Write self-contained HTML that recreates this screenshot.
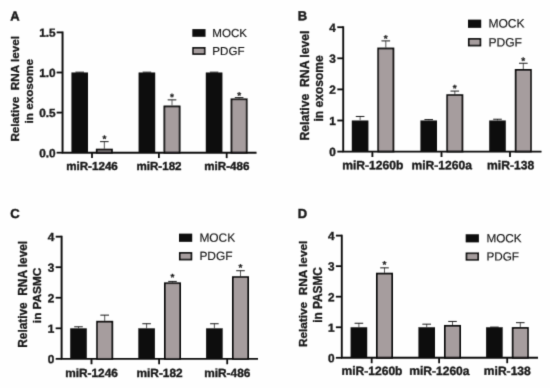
<!DOCTYPE html>
<html><head><meta charset="utf-8"><title>Figure</title>
<style>
html,body{margin:0;padding:0;background:#fefefe;}
svg{display:block;font-family:"Liberation Sans",Arial,Helvetica,sans-serif;fill:#1a1a1a;}
text{stroke:#1a1a1a;stroke-width:0.12px;stroke-linejoin:round;}
.L{stroke-width:0.45px}.t{stroke-width:0.32px}.k{stroke-width:0.38px}.c{stroke-width:0.38px}.s{stroke-width:0.25px}.g{stroke-width:0.18px;fill:#202020;stroke:#202020}
</style></head>
<body>
<svg width="550" height="388" viewBox="0 0 550 388">
<defs><filter id="soft" x="0" y="0" width="550" height="388" filterUnits="userSpaceOnUse"><feConvolveMatrix order="3" kernelMatrix="0.022 0.15 0.022 0.15 1 0.15 0.022 0.15 0.022" divisor="1.688" edgeMode="none" preserveAlpha="false"/></filter></defs>
<rect width="550" height="388" fill="#fefefe"/>
<g filter="url(#soft)">
<text x="10.3" y="20.6" transform="rotate(0.05 10.3 20.6)" class="L" font-size="13" font-weight="700">A</text>
<text transform="translate(19.0,88.85) rotate(-90)" class="t" font-size="11.7" font-weight="700" text-anchor="middle" xml:space="preserve" style="white-space:pre">Relative  RNA level</text>
<text transform="translate(33.3,91.25) rotate(-90)" class="t" font-size="11.7" font-weight="700" text-anchor="middle">in exosome</text>
<path d="M79.70 72.50V72.18" stroke="#181818" stroke-width="0.72" fill="none"/><path d="M75.40 72.18H84.00" stroke="#101010" stroke-width="0.95" fill="none"/>
<rect x="71.40" y="72.50" width="16.60" height="80.20" fill="#0d0d0d"/>
<path d="M104.35 148.85V141.63" stroke="#181818" stroke-width="0.72" fill="none"/><path d="M100.05 141.63H108.65" stroke="#101010" stroke-width="0.95" fill="none"/>
<rect x="96.75" y="149.60" width="15.20" height="3.10" fill="#a69d9e" stroke="#0d0d0d" stroke-width="1.8"/>
<text x="104.35" y="142.18" transform="rotate(0.05 104.35 142.18)" class="s" font-size="10" font-weight="700" text-anchor="middle">*</text>
<path d="M92.00 152.7V158.10" stroke="#0c0c0c" stroke-width="1.8"/>
<text x="92.00" y="170.0" transform="rotate(0.05 92.00 170.0)" class="c" font-size="11.6" font-weight="700" text-anchor="middle">miR-1246</text>
<path d="M146.90 72.50V72.18" stroke="#181818" stroke-width="0.72" fill="none"/><path d="M142.60 72.18H151.20" stroke="#101010" stroke-width="0.95" fill="none"/>
<rect x="138.60" y="72.50" width="16.60" height="80.20" fill="#0d0d0d"/>
<path d="M172.00 105.70V99.85" stroke="#181818" stroke-width="0.72" fill="none"/><path d="M167.70 99.85H176.30" stroke="#101010" stroke-width="0.95" fill="none"/>
<rect x="164.40" y="106.45" width="15.20" height="46.25" fill="#a69d9e" stroke="#0d0d0d" stroke-width="1.8"/>
<text x="172.00" y="100.40" transform="rotate(0.05 172.00 100.40)" class="s" font-size="10" font-weight="700" text-anchor="middle">*</text>
<path d="M158.90 152.7V158.10" stroke="#0c0c0c" stroke-width="1.8"/>
<text x="159.00" y="170.0" transform="rotate(0.05 159.00 170.0)" class="c" font-size="11.6" font-weight="700" text-anchor="middle">miR-182</text>
<path d="M214.10 72.50V72.18" stroke="#181818" stroke-width="0.72" fill="none"/><path d="M209.80 72.18H218.40" stroke="#101010" stroke-width="0.95" fill="none"/>
<rect x="205.80" y="72.50" width="16.60" height="80.20" fill="#0d0d0d"/>
<path d="M239.10 98.56V97.60" stroke="#181818" stroke-width="0.72" fill="none"/><path d="M234.80 97.60H243.40" stroke="#101010" stroke-width="0.95" fill="none"/>
<rect x="231.50" y="99.31" width="15.20" height="53.39" fill="#a69d9e" stroke="#0d0d0d" stroke-width="1.8"/>
<text x="239.10" y="99.00" transform="rotate(0.05 239.10 99.00)" class="s" font-size="10" font-weight="700" text-anchor="middle">*</text>
<path d="M226.70 152.7V158.10" stroke="#0c0c0c" stroke-width="1.8"/>
<text x="226.80" y="170.0" transform="rotate(0.05 226.80 170.0)" class="c" font-size="11.6" font-weight="700" text-anchor="middle">miR-486</text>
<path d="M62.55 31.50V152.7M61.65 152.7H256.5" stroke="#0c0c0c" stroke-width="1.9" fill="none"/>
<path d="M56.65 152.70H62.55" stroke="#0c0c0c" stroke-width="1.8"/>
<text x="55.60" y="157.15" transform="rotate(0.05 55.60 157.15)" class="k" font-size="11.8" font-weight="700" text-anchor="end">0.0</text>
<path d="M56.65 112.60H62.55" stroke="#0c0c0c" stroke-width="1.8"/>
<text x="55.60" y="117.05" transform="rotate(0.05 55.60 117.05)" class="k" font-size="11.8" font-weight="700" text-anchor="end">0.5</text>
<path d="M56.65 72.50H62.55" stroke="#0c0c0c" stroke-width="1.8"/>
<text x="55.60" y="76.95" transform="rotate(0.05 55.60 76.95)" class="k" font-size="11.8" font-weight="700" text-anchor="end">1.0</text>
<path d="M56.65 32.40H62.55" stroke="#0c0c0c" stroke-width="1.8"/>
<text x="55.60" y="36.85" transform="rotate(0.05 55.60 36.85)" class="k" font-size="11.8" font-weight="700" text-anchor="end">1.5</text>
<rect x="192.3" y="29.1" width="13.2" height="7.7" fill="#0d0d0d"/>
<rect x="193.10" y="47.90" width="11.60" height="6.10" fill="#a69d9e" stroke="#0d0d0d" stroke-width="1.7"/>
<text x="212.3" y="37.0" transform="rotate(0.05 212.3 37.0)" class="g" font-size="11.6">MOCK</text>
<text x="212.3" y="55.0" transform="rotate(0.05 212.3 55.0)" class="g" font-size="11.6">PDGF</text>
<text x="297.8" y="20.3" transform="rotate(0.05 297.8 20.3)" class="L" font-size="13" font-weight="700">B</text>
<text transform="translate(308.5,85.5) rotate(-90)" class="t" font-size="12.2" font-weight="700" text-anchor="middle" xml:space="preserve" style="white-space:pre">Relative  RNA level</text>
<text transform="translate(322.7,88.45) rotate(-90)" class="t" font-size="12.0" font-weight="700" text-anchor="middle">in exosome</text>
<path d="M360.10 120.50V116.46" stroke="#181818" stroke-width="0.72" fill="none"/><path d="M355.80 116.46H364.40" stroke="#101010" stroke-width="0.95" fill="none"/>
<rect x="351.80" y="120.50" width="16.60" height="31.10" fill="#0d0d0d"/>
<path d="M385.80 47.73V40.88" stroke="#181818" stroke-width="0.72" fill="none"/><path d="M381.50 40.88H390.10" stroke="#101010" stroke-width="0.95" fill="none"/>
<rect x="378.20" y="48.48" width="15.20" height="103.12" fill="#a69d9e" stroke="#0d0d0d" stroke-width="1.8"/>
<text x="385.80" y="41.98" transform="rotate(0.05 385.80 41.98)" class="s" font-size="10" font-weight="700" text-anchor="middle">*</text>
<path d="M372.40 151.6V157.00" stroke="#0c0c0c" stroke-width="1.8"/>
<text x="372.80" y="169.2" transform="rotate(0.05 372.80 169.2)" class="c" font-size="12.1" font-weight="700" text-anchor="middle">miR-1260b</text>
<path d="M428.70 120.50V119.57" stroke="#181818" stroke-width="0.72" fill="none"/><path d="M424.40 119.57H433.00" stroke="#101010" stroke-width="0.95" fill="none"/>
<rect x="420.40" y="120.50" width="16.60" height="31.10" fill="#0d0d0d"/>
<path d="M454.80 94.38V91.11" stroke="#181818" stroke-width="0.72" fill="none"/><path d="M450.50 91.11H459.10" stroke="#101010" stroke-width="0.95" fill="none"/>
<rect x="447.20" y="95.13" width="15.20" height="56.47" fill="#a69d9e" stroke="#0d0d0d" stroke-width="1.8"/>
<text x="454.80" y="91.66" transform="rotate(0.05 454.80 91.66)" class="s" font-size="10" font-weight="700" text-anchor="middle">*</text>
<path d="M441.50 151.6V157.00" stroke="#0c0c0c" stroke-width="1.8"/>
<text x="441.70" y="169.2" transform="rotate(0.05 441.70 169.2)" class="c" font-size="12.1" font-weight="700" text-anchor="middle">miR-1260a</text>
<path d="M497.50 120.50V119.26" stroke="#181818" stroke-width="0.72" fill="none"/><path d="M493.20 119.26H501.80" stroke="#101010" stroke-width="0.95" fill="none"/>
<rect x="489.20" y="120.50" width="16.60" height="31.10" fill="#0d0d0d"/>
<path d="M523.30 69.18V63.28" stroke="#181818" stroke-width="0.72" fill="none"/><path d="M519.00 63.28H527.60" stroke="#101010" stroke-width="0.95" fill="none"/>
<rect x="515.70" y="69.93" width="15.20" height="81.67" fill="#a69d9e" stroke="#0d0d0d" stroke-width="1.8"/>
<text x="523.30" y="64.18" transform="rotate(0.05 523.30 64.18)" class="s" font-size="10" font-weight="700" text-anchor="middle">*</text>
<path d="M510.00 151.6V157.00" stroke="#0c0c0c" stroke-width="1.8"/>
<text x="510.60" y="169.2" transform="rotate(0.05 510.60 169.2)" class="c" font-size="12.1" font-weight="700" text-anchor="middle">miR-138</text>
<path d="M343.2 26.30V151.6M342.3 151.6H541.5" stroke="#0c0c0c" stroke-width="1.9" fill="none"/>
<path d="M337.30 151.60H343.2" stroke="#0c0c0c" stroke-width="1.8"/>
<text x="335.70" y="156.05" transform="rotate(0.05 335.70 156.05)" class="k" font-size="11.8" font-weight="700" text-anchor="end">0</text>
<path d="M337.30 120.50H343.2" stroke="#0c0c0c" stroke-width="1.8"/>
<text x="335.70" y="124.95" transform="rotate(0.05 335.70 124.95)" class="k" font-size="11.8" font-weight="700" text-anchor="end">1</text>
<path d="M337.30 89.40H343.2" stroke="#0c0c0c" stroke-width="1.8"/>
<text x="335.70" y="93.85" transform="rotate(0.05 335.70 93.85)" class="k" font-size="11.8" font-weight="700" text-anchor="end">2</text>
<path d="M337.30 58.30H343.2" stroke="#0c0c0c" stroke-width="1.8"/>
<text x="335.70" y="62.75" transform="rotate(0.05 335.70 62.75)" class="k" font-size="11.8" font-weight="700" text-anchor="end">3</text>
<path d="M337.30 27.20H343.2" stroke="#0c0c0c" stroke-width="1.8"/>
<text x="335.70" y="31.65" transform="rotate(0.05 335.70 31.65)" class="k" font-size="11.8" font-weight="700" text-anchor="end">4</text>
<rect x="468.0" y="19.65" width="13.2" height="8.2" fill="#0d0d0d"/>
<rect x="468.80" y="38.95" width="11.60" height="6.60" fill="#a69d9e" stroke="#0d0d0d" stroke-width="1.7"/>
<text x="488.4" y="27.5" transform="rotate(0.05 488.4 27.5)" class="g" font-size="12.1">MOCK</text>
<text x="488.4" y="46.4" transform="rotate(0.05 488.4 46.4)" class="g" font-size="12.1">PDGF</text>
<text x="10.3" y="218.0" transform="rotate(0.05 10.3 218.0)" class="L" font-size="13" font-weight="700">C</text>
<text transform="translate(26.5,294.3) rotate(-90)" class="t" font-size="11.85" font-weight="700" text-anchor="middle" xml:space="preserve" style="white-space:pre">Relative  RNA level</text>
<text transform="translate(41.4,295.4) rotate(-90)" class="t" font-size="11.8" font-weight="700" text-anchor="middle">in PASMC</text>
<path d="M78.50 328.30V326.77" stroke="#181818" stroke-width="0.72" fill="none"/><path d="M74.20 326.77H82.80" stroke="#101010" stroke-width="0.95" fill="none"/>
<rect x="70.20" y="328.30" width="16.60" height="30.55" fill="#0d0d0d"/>
<path d="M104.70 320.97V315.16" stroke="#181818" stroke-width="0.72" fill="none"/><path d="M100.40 315.16H109.00" stroke="#101010" stroke-width="0.95" fill="none"/>
<rect x="97.10" y="321.72" width="15.20" height="37.13" fill="#a69d9e" stroke="#0d0d0d" stroke-width="1.8"/>
<path d="M91.50 358.85V364.25" stroke="#0c0c0c" stroke-width="1.8"/>
<text x="91.50" y="377.0" transform="rotate(0.05 91.50 377.0)" class="c" font-size="11.85" font-weight="700" text-anchor="middle">miR-1246</text>
<path d="M146.60 328.30V323.72" stroke="#181818" stroke-width="0.72" fill="none"/><path d="M142.30 323.72H150.90" stroke="#101010" stroke-width="0.95" fill="none"/>
<rect x="138.30" y="328.30" width="16.60" height="30.55" fill="#0d0d0d"/>
<path d="M172.50 282.48V281.41" stroke="#181818" stroke-width="0.72" fill="none"/><path d="M168.20 281.41H176.80" stroke="#101010" stroke-width="0.95" fill="none"/>
<rect x="164.90" y="283.23" width="15.20" height="75.62" fill="#a69d9e" stroke="#0d0d0d" stroke-width="1.8"/>
<text x="172.50" y="280.78" transform="rotate(0.05 172.50 280.78)" class="s" font-size="10" font-weight="700" text-anchor="middle">*</text>
<path d="M159.10 358.85V364.25" stroke="#0c0c0c" stroke-width="1.8"/>
<text x="159.60" y="377.0" transform="rotate(0.05 159.60 377.0)" class="c" font-size="11.85" font-weight="700" text-anchor="middle">miR-182</text>
<path d="M214.40 328.30V323.72" stroke="#181818" stroke-width="0.72" fill="none"/><path d="M210.10 323.72H218.70" stroke="#101010" stroke-width="0.95" fill="none"/>
<rect x="206.10" y="328.30" width="16.60" height="30.55" fill="#0d0d0d"/>
<path d="M240.50 276.37V270.71" stroke="#181818" stroke-width="0.72" fill="none"/><path d="M236.20 270.71H244.80" stroke="#101010" stroke-width="0.95" fill="none"/>
<rect x="232.90" y="277.12" width="15.20" height="81.74" fill="#a69d9e" stroke="#0d0d0d" stroke-width="1.8"/>
<text x="240.50" y="271.01" transform="rotate(0.05 240.50 271.01)" class="s" font-size="10" font-weight="700" text-anchor="middle">*</text>
<path d="M227.20 358.85V364.25" stroke="#0c0c0c" stroke-width="1.8"/>
<text x="227.30" y="377.0" transform="rotate(0.05 227.30 377.0)" class="c" font-size="11.85" font-weight="700" text-anchor="middle">miR-486</text>
<path d="M61.6 235.75V358.85M60.7 358.85H258.0" stroke="#0c0c0c" stroke-width="1.9" fill="none"/>
<path d="M55.70 358.85H61.6" stroke="#0c0c0c" stroke-width="1.8"/>
<text x="54.20" y="363.30" transform="rotate(0.05 54.20 363.30)" class="k" font-size="11.8" font-weight="700" text-anchor="end">0</text>
<path d="M55.70 328.30H61.6" stroke="#0c0c0c" stroke-width="1.8"/>
<text x="54.20" y="332.75" transform="rotate(0.05 54.20 332.75)" class="k" font-size="11.8" font-weight="700" text-anchor="end">1</text>
<path d="M55.70 297.75H61.6" stroke="#0c0c0c" stroke-width="1.8"/>
<text x="54.20" y="302.20" transform="rotate(0.05 54.20 302.20)" class="k" font-size="11.8" font-weight="700" text-anchor="end">2</text>
<path d="M55.70 267.20H61.6" stroke="#0c0c0c" stroke-width="1.8"/>
<text x="54.20" y="271.65" transform="rotate(0.05 54.20 271.65)" class="k" font-size="11.8" font-weight="700" text-anchor="end">3</text>
<path d="M55.70 236.65H61.6" stroke="#0c0c0c" stroke-width="1.8"/>
<text x="54.20" y="241.10" transform="rotate(0.05 54.20 241.10)" class="k" font-size="11.8" font-weight="700" text-anchor="end">4</text>
<rect x="179.0" y="233.65" width="13.2" height="8.2" fill="#0d0d0d"/>
<rect x="179.80" y="252.95" width="11.60" height="6.60" fill="#a69d9e" stroke="#0d0d0d" stroke-width="1.7"/>
<text x="199.4" y="241.8" transform="rotate(0.05 199.4 241.8)" class="g" font-size="11.95">MOCK</text>
<text x="199.4" y="260.1" transform="rotate(0.05 199.4 260.1)" class="g" font-size="11.95">PDGF</text>
<text x="297.8" y="218.0" transform="rotate(0.05 297.8 218.0)" class="L" font-size="13" font-weight="700">D</text>
<text transform="translate(307.4,293.9) rotate(-90)" class="t" font-size="11.8" font-weight="700" text-anchor="middle" xml:space="preserve" style="white-space:pre">Relative  RNA level</text>
<text transform="translate(321.8,295.0) rotate(-90)" class="t" font-size="11.85" font-weight="700" text-anchor="middle">in PASMC</text>
<path d="M358.90 327.25V323.28" stroke="#181818" stroke-width="0.72" fill="none"/><path d="M354.60 323.28H363.20" stroke="#101010" stroke-width="0.95" fill="none"/>
<rect x="350.60" y="327.25" width="16.60" height="30.55" fill="#0d0d0d"/>
<path d="M384.50 272.87V267.83" stroke="#181818" stroke-width="0.72" fill="none"/><path d="M380.20 267.83H388.80" stroke="#101010" stroke-width="0.95" fill="none"/>
<rect x="376.90" y="273.62" width="15.20" height="84.18" fill="#a69d9e" stroke="#0d0d0d" stroke-width="1.8"/>
<text x="384.50" y="267.93" transform="rotate(0.05 384.50 267.93)" class="s" font-size="10" font-weight="700" text-anchor="middle">*</text>
<path d="M371.70 357.8V363.20" stroke="#0c0c0c" stroke-width="1.8"/>
<text x="372.00" y="374.9" transform="rotate(0.05 372.00 374.9)" class="c" font-size="12.05" font-weight="700" text-anchor="middle">miR-1260b</text>
<path d="M426.70 327.25V324.19" stroke="#181818" stroke-width="0.72" fill="none"/><path d="M422.40 324.19H431.00" stroke="#101010" stroke-width="0.95" fill="none"/>
<rect x="418.40" y="327.25" width="16.60" height="30.55" fill="#0d0d0d"/>
<path d="M452.50 325.11V321.45" stroke="#181818" stroke-width="0.72" fill="none"/><path d="M448.20 321.45H456.80" stroke="#101010" stroke-width="0.95" fill="none"/>
<rect x="444.90" y="325.86" width="15.20" height="31.94" fill="#a69d9e" stroke="#0d0d0d" stroke-width="1.8"/>
<path d="M439.10 357.8V363.20" stroke="#0c0c0c" stroke-width="1.8"/>
<text x="439.40" y="374.9" transform="rotate(0.05 439.40 374.9)" class="c" font-size="12.05" font-weight="700" text-anchor="middle">miR-1260a</text>
<path d="M494.40 327.25V327.13" stroke="#181818" stroke-width="0.72" fill="none"/><path d="M490.10 327.13H498.70" stroke="#101010" stroke-width="0.95" fill="none"/>
<rect x="486.10" y="327.25" width="16.60" height="30.55" fill="#0d0d0d"/>
<path d="M520.30 327.25V322.67" stroke="#181818" stroke-width="0.72" fill="none"/><path d="M516.00 322.67H524.60" stroke="#101010" stroke-width="0.95" fill="none"/>
<rect x="512.70" y="328.00" width="15.20" height="29.80" fill="#a69d9e" stroke="#0d0d0d" stroke-width="1.8"/>
<path d="M507.20 357.8V363.20" stroke="#0c0c0c" stroke-width="1.8"/>
<text x="507.30" y="374.9" transform="rotate(0.05 507.30 374.9)" class="c" font-size="12.05" font-weight="700" text-anchor="middle">miR-138</text>
<path d="M341.8 234.70V357.8M340.90000000000003 357.8H538.0" stroke="#0c0c0c" stroke-width="1.9" fill="none"/>
<path d="M335.90 357.80H341.8" stroke="#0c0c0c" stroke-width="1.8"/>
<text x="334.50" y="362.25" transform="rotate(0.05 334.50 362.25)" class="k" font-size="11.8" font-weight="700" text-anchor="end">0</text>
<path d="M335.90 327.25H341.8" stroke="#0c0c0c" stroke-width="1.8"/>
<text x="334.50" y="331.70" transform="rotate(0.05 334.50 331.70)" class="k" font-size="11.8" font-weight="700" text-anchor="end">1</text>
<path d="M335.90 296.70H341.8" stroke="#0c0c0c" stroke-width="1.8"/>
<text x="334.50" y="301.15" transform="rotate(0.05 334.50 301.15)" class="k" font-size="11.8" font-weight="700" text-anchor="end">2</text>
<path d="M335.90 266.15H341.8" stroke="#0c0c0c" stroke-width="1.8"/>
<text x="334.50" y="270.60" transform="rotate(0.05 334.50 270.60)" class="k" font-size="11.8" font-weight="700" text-anchor="end">3</text>
<path d="M335.90 235.60H341.8" stroke="#0c0c0c" stroke-width="1.8"/>
<text x="334.50" y="240.05" transform="rotate(0.05 334.50 240.05)" class="k" font-size="11.8" font-weight="700" text-anchor="end">4</text>
<rect x="465.7" y="234.25" width="13.2" height="8.1" fill="#0d0d0d"/>
<rect x="466.50" y="253.30" width="11.60" height="6.50" fill="#a69d9e" stroke="#0d0d0d" stroke-width="1.7"/>
<text x="486.4" y="242.2" transform="rotate(0.05 486.4 242.2)" class="g" font-size="11.75">MOCK</text>
<text x="486.4" y="260.6" transform="rotate(0.05 486.4 260.6)" class="g" font-size="11.75">PDGF</text>
</g>
</svg>
</body></html>
